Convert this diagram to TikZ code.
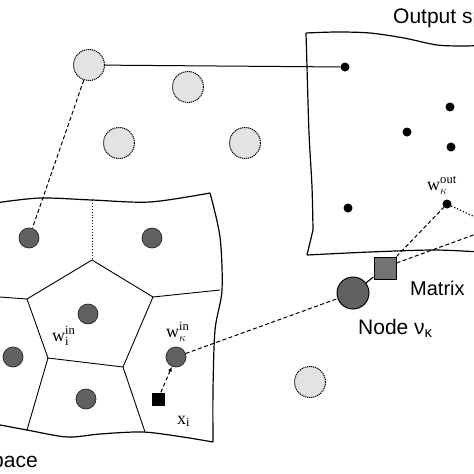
\documentclass[tikz,border=0pt]{standalone}
\usepackage{fontspec}
\setmainfont{Liberation Sans}
\setmathrm{Liberation Serif}
\usetikzlibrary{arrows.meta}
\begin{document}
\begin{tikzpicture}[x=1pt,y=-1pt,
  panel/.style={line width=1.2pt},
  cell/.style={line width=0.9pt},
  darkdot/.style={circle,fill=black!62,draw=black!85,line width=0.7pt,minimum size=20pt,inner sep=0pt},
  lightdot/.style={circle,fill=gray!22,draw=black,dash pattern=on 1.2pt off 0.8pt,line width=1pt,minimum size=31pt,inner sep=0pt},
  outdot/.style={circle,fill=black,minimum size=9pt,inner sep=0pt},
  conn/.style={line width=1pt,dash pattern=on 4pt off 2.5pt},
  lab/.style={font=\fontsize{21}{24}\selectfont,inner sep=0pt},
  mlab/.style={font=\fontsize{18}{20}\selectfont,inner sep=0pt}
]
\useasboundingbox (0,0) rectangle (474,474);
\clip (0,0) rectangle (474,474);

% output space panel
\draw[panel] plot[smooth] coordinates {(306,33) (337,32) (370,33) (404,38) (437,45) (467,46) (480,45)};
\draw[panel] plot[smooth] coordinates {(306,33) (307,67) (309,133) (312,187) (313,230)} -- (307,255);
\draw[panel] plot[smooth] coordinates {(307,255) (370,252) (434,250) (480,252)};

% input space panel
\draw[panel] plot[smooth] coordinates {(-5,203) (40,198) (92,200) (150,202) (210,193)};
\draw[panel] plot[smooth] coordinates {(210,193) (220,237) (222,290) (215,330) (213,390) (213,442)};
\draw[panel] plot[smooth] coordinates {(213,442) (183,437) (143,432) (100,434) (67,437) (27,430) (-5,424)};

% voronoi cells
\coordinate (vt) at (92,200);
\coordinate (p1) at (92,260);
\coordinate (p2) at (27,299);
\coordinate (p3) at (48,358);
\coordinate (p4) at (123,367);
\coordinate (p5) at (153,297);
\draw[cell,dotted] (vt) -- (p1);
\draw[cell] (p1) -- (p2) -- (p3) -- (p4) -- (p5) -- cycle;
\draw[cell] (0,297) -- (p2);
\draw[cell] (p5) -- (220,290);
\draw[cell] (p3) -- (27,430);
\draw[cell] (p4) -- (145,432);

% light (lattice) nodes
\node[lightdot] (la) at (89,65) {};
\node[lightdot] (lb) at (188,87) {};
\node[lightdot] (lc) at (119,143) {};
\node[lightdot] (ld) at (245,143) {};
\node[lightdot] (le) at (310,382) {};

% input weight dots
\node[darkdot] (d1) at (29,238) {};
\node[darkdot] (d2) at (152,238) {};
\node[darkdot] (d3) at (88,314) {};
\node[darkdot] (d4) at (13,357) {};
\node[darkdot] (d5) at (86,399) {};
\node[darkdot] (dk) at (176,357) {};

% output dots
\node[outdot] (o1) at (345,67) {};
\node[outdot] (o2) at (450,107) {};
\node[outdot] (o3) at (407,132) {};
\node[outdot] (o4) at (451,147) {};
\node[outdot] (o5) at (348,208) {};
\node[outdot] (ok) at (447,204) {};

% node and matrix
\node[circle,fill=black!62,draw=black,line width=1pt,minimum size=32pt,inner sep=0pt] (nk) at (353,293) {};
\node[rectangle,fill=black!55,draw=black,line width=1pt,minimum size=22pt,inner sep=0pt] (mx) at (385,268) {};

% input sample
\node[rectangle,fill=black,minimum size=13pt,inner sep=0pt] (xs) at (158,399) {};

\coordinate (e1) at (490,229);
\coordinate (e2) at (490,224);

% connectors
\draw[conn] (la) -- (d1);
\draw[line width=1pt] (la) -- (o1);
\draw[conn] (dk) -- (nk);
\draw[line width=1.1pt] (nk) -- (mx);
\draw[conn] (mx.north east) -- (ok);
\draw[conn] (mx.east) ++(0,-5) coordinate (mxe) (mxe) -- (e1);
\draw[dotted,line width=1.2pt] (ok) -- (e2);
\draw[conn,-{Latex[length=5pt,width=4pt]}] (xs) -- (dk);

% labels
\node[lab,anchor=base west] (tout) at (393,23) {Output space};
\node[lab,anchor=base east] (tin) at (38,467) {Input space};
\node[lab,anchor=base west] (tnode) at (358,334) {Node ν\textsubscript{κ}};
\node[lab,font=\fontsize{20}{24}\selectfont,anchor=base west] (tmx) at (410,295) {Matrix};
\node[mlab,anchor=base west] (twi) at (52,341) {$\mathrm{w}^{\mathrm{in}}_{\mathrm{i}}$};
\node[mlab,anchor=base west] (twk) at (166,337) {$\mathrm{w}^{\mathrm{in}}_{\kappa}$};
\node[mlab,anchor=base west] (twout) at (427,190) {$\mathrm{w}^{\mathrm{out}}_{\kappa}$};
\node[mlab,anchor=base west] (txi) at (177,424) {$\mathrm{x}_{\mathrm{i}}$};
\end{tikzpicture}
\end{document}
